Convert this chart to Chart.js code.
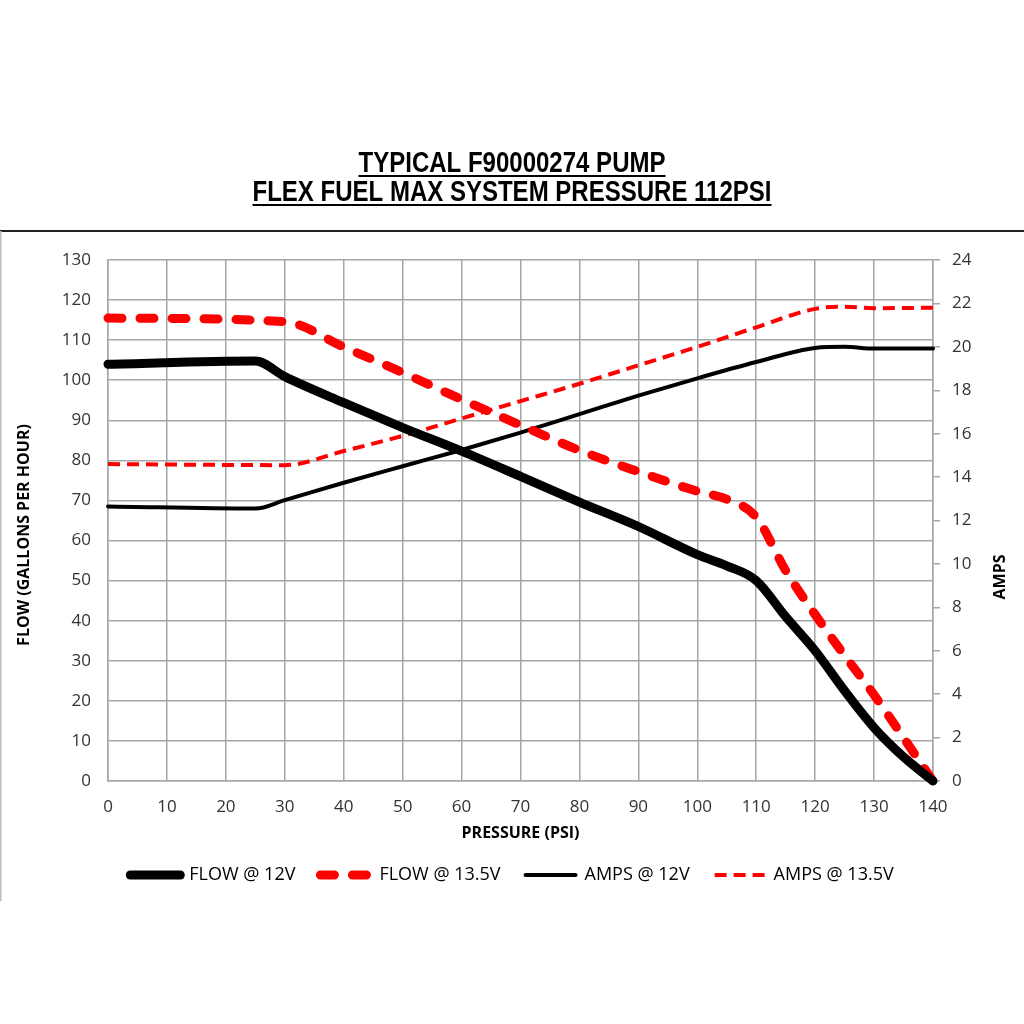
<!DOCTYPE html>
<html><head><meta charset="utf-8">
<script src="https://cdn.jsdelivr.net/npm/chart.js@4.4.1/dist/chart.umd.min.js"></script>
<style>html,body{margin:0;padding:0;background:#fff;}#wrap{position:relative;width:1024px;height:1024px;}</style>
</head><body><div id="wrap"><canvas id="c" width="1024" height="1024"></canvas></div>
<script>
// ---- text ----
const titleLines = ['TYPICAL F90000274 PUMP', 'FLEX FUEL MAX SYSTEM PRESSURE 112PSI'];
const xTitle = 'PRESSURE (PSI)';
const yTitle = 'FLOW (GALLONS PER HOUR)';
const y1Title = 'AMPS';
const seriesNames = ['FLOW @ 12V', 'FLOW @ 13.5V', 'AMPS @ 12V', 'AMPS @ 13.5V'];

// ---- data (pressure in PSI) ----
const flow12Psi  = [0, 25, 30, 40, 50, 60, 70, 80, 90, 100, 105, 110, 115, 120, 125, 130, 135, 140];
const flow12Gph  = [104, 104.8, 100.9, 94.4, 88.2, 82.3, 76, 69.6, 63.5, 56.5, 53.7, 50, 41, 32.5, 22.5, 13.3, 6, 0];

const flow135Psi = [0, 30, 40, 50, 60, 70, 80, 90, 100, 105, 110, 115, 120, 125, 130, 135, 140];
const flow135Gph = [115.5, 114.6, 108.3, 101.9, 95.2, 88.8, 82.5, 77.2, 72.3, 70.3, 65.8, 52.5, 41.5, 31.3, 21.5, 10.8, 0];

const amps12Psi  = [0, 25, 30, 40, 50, 60, 70, 80, 90, 100, 110, 120, 125, 130, 140];
const amps12A    = [12.65, 12.55, 12.94, 13.74, 14.5, 15.25, 16.05, 16.9, 17.75, 18.55, 19.3, 19.95, 20.0, 19.92, 19.92];

const amps135Psi = [0, 30, 40, 50, 60, 70, 80, 90, 100, 110, 120, 125, 130, 140];
const amps135A   = [14.6, 14.55, 15.2, 15.9, 16.7, 17.5, 18.3, 19.15, 20.0, 20.9, 21.75, 21.85, 21.78, 21.8];

// ---- axis ranges ----
const xMin = 0, xMax = 140, xStep = 10;
const yMin = 0, yMax = 130, yStep = 10;
const y1Min = 0, y1Max = 24, y1Step = 2;

const toPts = (xs, ys) => xs.map((x, i) => ({x: x, y: ys[i]}));

const GRID = '#a6a6a6';
const TICK = '#333333';
const RED = '#ff0000';

const decor = {
  id: 'decor',
  beforeDraw(chart) {
    const ctx = chart.ctx;
    ctx.save();
    ctx.fillStyle = '#fff';
    ctx.fillRect(0, 0, chart.width, chart.height);
    // frame
    ctx.fillStyle = '#222';
    ctx.fillRect(0, 230, 1024, 2);
    ctx.fillStyle = '#bdbdbd';
    ctx.fillRect(0, 231, 1.5, 670);
    // title
    const targets = [307, 519];
    const baselines = [172, 201];
    ctx.fillStyle = '#000';
    ctx.textAlign = 'center';
    ctx.textBaseline = 'alphabetic';
    ctx.font = 'bold 29px "Liberation Sans Narrow", "Liberation Sans", Arial, sans-serif';
    titleLines.forEach((t, i) => {
      const w = ctx.measureText(t).width;
      const sx = targets[i] / w;
      ctx.save();
      ctx.translate(512, baselines[i]);
      ctx.scale(sx, 1);
      ctx.fillText(t, 0, 0);
      ctx.restore();
      ctx.fillRect(512 - targets[i] / 2, baselines[i] + 3, targets[i], 2);
    });
    ctx.restore();
  },
  afterDraw(chart) {
    const ctx = chart.ctx;
    const a = chart.chartArea;
    ctx.save();
    ctx.fillStyle = '#000';
    ctx.font = 'bold 16px "Open Sans", sans-serif';
    ctx.textAlign = 'center';
    ctx.textBaseline = 'middle';
    ctx.fillText(xTitle, (a.left + a.right) / 2, 833);
    ctx.save();
    ctx.translate(24, 535);
    ctx.rotate(-Math.PI / 2);
    ctx.fillText(yTitle, 0, 0);
    ctx.restore();
    ctx.save();
    ctx.translate(1000, 577);
    ctx.rotate(-Math.PI / 2);
    ctx.fillText(y1Title, 0, 0);
    ctx.restore();
    ctx.restore();
  }
};

new Chart(document.getElementById('c'), {
  type: 'line',
  data: {
    datasets: [
      {label: seriesNames[0], data: toPts(flow12Psi, flow12Gph), yAxisID: 'y',
       borderColor: '#000', backgroundColor: '#000', borderWidth: 9, borderCapStyle: 'round', borderJoinStyle: 'round'},
      {label: seriesNames[1], data: toPts(flow135Psi, flow135Gph), yAxisID: 'y',
       borderColor: RED, backgroundColor: RED, borderWidth: 9, borderDash: [14, 18], borderCapStyle: 'round', borderJoinStyle: 'round'},
      {label: seriesNames[2], data: toPts(amps12Psi, amps12A), yAxisID: 'y1',
       borderColor: '#000', backgroundColor: '#000', borderWidth: 4, borderCapStyle: 'round', borderJoinStyle: 'round'},
      {label: seriesNames[3], data: toPts(amps135Psi, amps135A), yAxisID: 'y1',
       borderColor: RED, backgroundColor: RED, borderWidth: 4, borderDash: [12, 7], borderCapStyle: 'butt', borderJoinStyle: 'round'}
    ]
  },
  options: {
    responsive: false,
    devicePixelRatio: 1,
    animation: false,
    clip: false,
    datasets: {line: {pointRadius: 0, fill: false, cubicInterpolationMode: 'monotone', clip: false}},
    layout: {padding: {top: 260, left: 0, right: 0, bottom: 130}},
    plugins: {
      title: {display: false},
      tooltip: {enabled: false},
      legend: {
        position: 'bottom',
        labels: {
          usePointStyle: true, pointStyle: 'line', pointStyleWidth: 50,
          color: '#000', font: {family: '"Open Sans", sans-serif', size: 18}, padding: 25,
          generateLabels(chart) {
            const items = Chart.defaults.plugins.legend.labels.generateLabels(chart);
            items.forEach(it => {
              const ds = chart.data.datasets[it.datasetIndex];
              it.lineDash = ds.borderDash || [];
              it.lineCap = ds.borderCapStyle;
              it.lineWidth = ds.borderWidth;
              it.strokeStyle = ds.borderColor;
              it.fillStyle = ds.borderColor;
              it.pointStyle = 'line';
            });
            return items;
          }
        }
      }
    },
    scales: {
      x: {
        type: 'linear', min: xMin, max: xMax,
        ticks: {stepSize: xStep, color: TICK, padding: 16, font: {family: '"Open Sans", sans-serif', size: 17}},
        grid: {color: GRID, lineWidth: 1.5, drawTicks: false},
        border: {color: GRID, width: 1.5},
        afterFit(s) { s.height = 60; }
      },
      y: {
        type: 'linear', position: 'left', min: yMin, max: yMax,
        ticks: {stepSize: yStep, color: TICK, padding: 17, font: {family: '"Open Sans", sans-serif', size: 17}},
        grid: {color: GRID, lineWidth: 1.5, drawTicks: false},
        border: {color: GRID, width: 1.5},
        afterFit(s) { s.width = 108; }
      },
      y1: {
        type: 'linear', position: 'right', min: y1Min, max: y1Max,
        ticks: {stepSize: y1Step, color: TICK, padding: 12, font: {family: '"Open Sans", sans-serif', size: 17}},
        grid: {drawOnChartArea: false, color: GRID, lineWidth: 1.5, drawTicks: true, tickLength: 7},
        border: {color: GRID, width: 1.5},
        afterFit(s) { s.width = 91; }
      }
    }
  },
  plugins: [decor]
});
</script>
</body></html>
